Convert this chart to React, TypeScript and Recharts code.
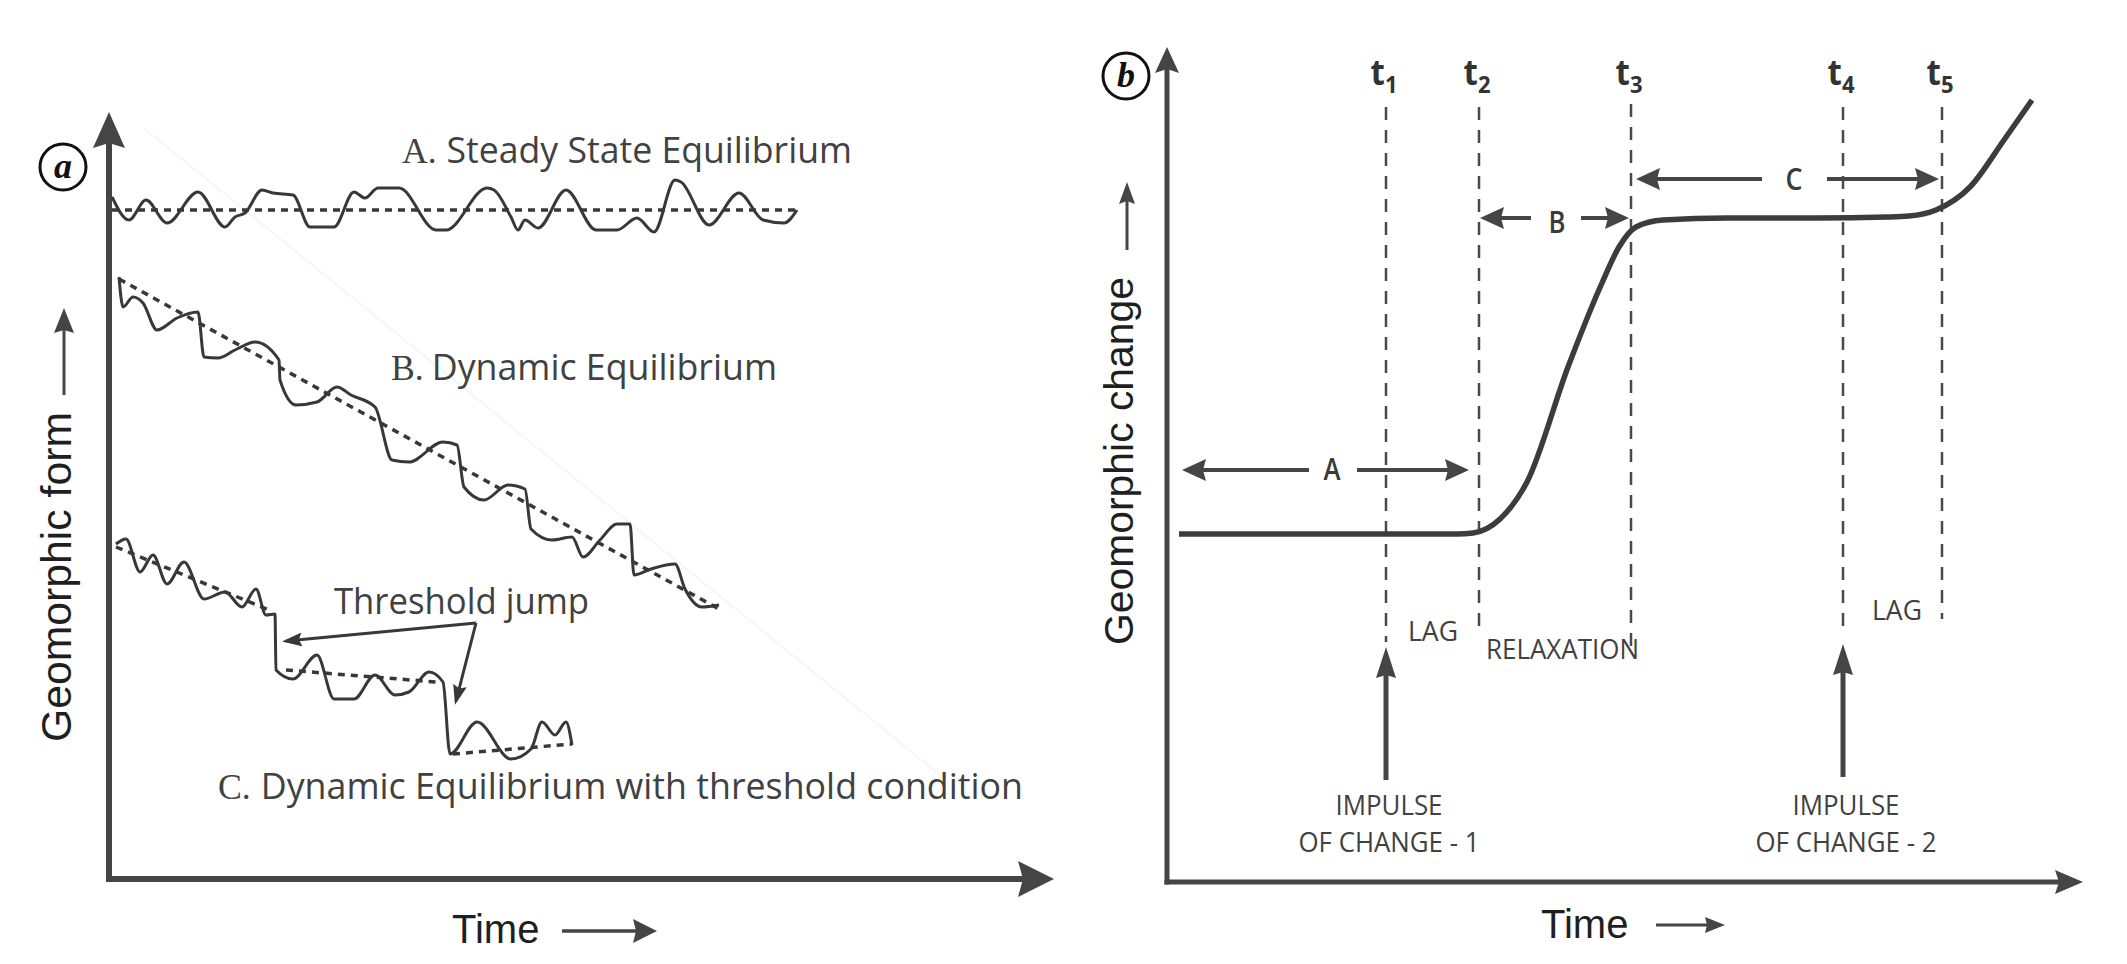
import React from "react";
import { LineChart, Line, XAxis, YAxis, ReferenceLine, ReferenceDot } from "recharts";

type Pt = [number, number];

// (a) geomorphic form through time (arbitrary units)
const steadyState: Pt[] = [
  [3, 682], [20, 659], [37, 679], [58, 656], [89, 687], [116, 652], [126, 662], [136, 666],
  [153, 689], [164, 686], [184, 684], [201, 652], [225, 652], [245, 687], [256, 681], [269, 691],
  [290, 691], [327, 649], [337, 649], [378, 691], [385, 689], [402, 662], [409, 649], [416, 659],
  [429, 651], [457, 689], [487, 649], [508, 649], [528, 661], [545, 647], [566, 699], [572, 697],
  [600, 654], [630, 686], [654, 659], [675, 656], [688, 669],
];
const steadyTrend: Pt[] = [[3, 669], [688, 669]];

const dynamic: Pt[] = [
  [10, 602], [14, 572], [24, 582], [34, 576], [48, 549], [68, 561], [89, 567], [95, 522],
  [109, 521], [126, 529], [146, 537], [170, 519], [171, 499], [187, 474], [208, 477], [228, 492],
  [242, 484], [266, 472], [283, 419], [300, 417], [334, 437], [348, 434], [355, 392], [375, 379],
  [399, 394], [416, 390], [422, 350], [443, 339], [463, 342], [474, 322], [491, 339], [508, 355],
  [521, 355], [525, 304], [542, 310], [566, 315], [576, 290], [593, 272], [610, 274],
];
const dynamicTrend: Pt[] = [[10, 600], [610, 270]];

const threshold: Pt[] = [
  [7, 335], [17, 340], [31, 307], [44, 324], [58, 295], [75, 317], [95, 280], [116, 287],
  [133, 272], [147, 290], [157, 264], [166, 265], [167, 209], [184, 200], [208, 224], [225, 180],
  [245, 180], [266, 204], [286, 184], [300, 187], [320, 207], [334, 197], [341, 125], [368, 157],
  [402, 120], [422, 130], [433, 157], [446, 144], [457, 157], [463, 134],
];
const thresholdTrends: Pt[][] = [
  [[7, 332], [160, 269]],
  [[177, 209], [327, 197]],
  [[344, 125], [463, 135]],
];
const jumpArrows: Pt[][] = [
  [[367, 256], [177, 238]],
  [[367, 256], [347, 178]],
];

// (b) geomorphic change after impulses
const response: Pt[] = [
  [12, 348], [150, 348], [290, 348], [306, 349], [333, 363], [360, 400], [401, 515], [435, 599],
  [452, 635], [469, 655], [496, 662], [560, 664], [650, 664], [720, 665], [742, 666], [769, 672],
  [803, 695], [837, 742], [865, 782],
];
const timeMarks = [
  { sub: "1", x: 219, top: 775, bottom: 240 },
  { sub: "2", x: 312, top: 775, bottom: 253 },
  { sub: "3", x: 464, top: 778, bottom: 227 },
  { sub: "4", x: 676, top: 775, bottom: 253 },
  { sub: "5", x: 775, top: 775, bottom: 263 },
];
const impulses = [
  { n: "1", x: 219, tip: 235, base: 102 },
  { n: "2", x: 676, tip: 238, base: 105 },
];
const periods = [
  { label: "A", y: 412, left: 15, right: 302, gapL: 142, gapR: 190, mid: 165, drop: 10 },
  { label: "B", y: 664, left: 313, right: 462, gapL: 364, gapR: 414, mid: 390, drop: 15 },
  { label: "C", y: 703, left: 469, right: 772, gapL: 595, gapR: 660, mid: 627, drop: 11 },
];

const INK = "#383838";
const AXIS = "#454545";
const TEXT = "#414141";
const DARK = "#1f1f1f";
const SANS = "'Liberation Sans', Arial, sans-serif";
const HUMANIST = "'Open Sans', 'Noto Sans', sans-serif";
const SERIF = "'Liberation Serif', 'DejaVu Serif', serif";

const toRows = (pts: Pt[]) => pts.map(([x, y]) => ({ x, y }));

type TextOpts = {
  size: number;
  family?: string;
  weight?: number;
  anchor?: "start" | "middle" | "end";
  length?: number;
  rotate?: number;
  fill?: string;
};

const textAt = (content: React.ReactNode, o: TextOpts) => (p: any) => (
  <text
    x={p.cx}
    y={p.cy}
    fontSize={o.size}
    fontFamily={o.family ?? HUMANIST}
    fontWeight={o.weight ?? 400}
    textAnchor={o.anchor ?? "start"}
    fill={o.fill ?? TEXT}
    textLength={o.length}
    lengthAdjust={o.length ? "spacingAndGlyphs" : undefined}
    transform={o.rotate ? `rotate(${o.rotate} ${p.cx} ${p.cy})` : undefined}
  >
    {content}
  </text>
);

type Dir = "up" | "down" | "left" | "right";
const head = (dir: Dir, len: number, half: number, notch = 0) => (p: any) => {
  const rot = { right: 0, down: 90, left: 180, up: -90 }[dir];
  const d = `M0,0 L${-len},${-half} L${-len + notch},0 L${-len},${half} Z`;
  return <path d={d} fill={AXIS} transform={`translate(${p.cx},${p.cy}) rotate(${rot})`} />;
};

const badge = (letter: string) => (p: any) => (
  <g>
    <circle cx={p.cx} cy={p.cy} r={23} fill="#fff" stroke="#111" strokeWidth={3} />
    <text
      x={p.cx}
      y={p.cy + 11}
      textAnchor="middle"
      fontFamily={SERIF}
      fontStyle="italic"
      fontWeight={700}
      fontSize={36}
      fill="#111"
    >
      {letter}
    </text>
  </g>
);

function PanelA() {
  return (
    <LineChart width={1063} height={964} margin={{ top: 125, right: 22, bottom: 85, left: 109 }}>
      <XAxis type="number" dataKey="x" domain={[0, 932]} allowDataOverflow hide />
      <YAxis type="number" domain={[0, 754]} allowDataOverflow hide />
      <ReferenceLine segment={[{ x: 36, y: 750 }, { x: 831, y: 104 }]} stroke="#f6f6f6" strokeWidth={2} ifOverflow="visible" />

      <ReferenceLine segment={[{ x: 0, y: 0 }, { x: 932, y: 0 }]} stroke={AXIS} strokeWidth={6} strokeLinecap="square" ifOverflow="visible" />
      <ReferenceLine segment={[{ x: 0, y: 0 }, { x: 0, y: 754 }]} stroke={AXIS} strokeWidth={6} strokeLinecap="square" ifOverflow="visible" />
      <ReferenceDot x={945} y={0} r={0} ifOverflow="visible" shape={head("right", 36, 18, 5)} />
      <ReferenceDot x={0} y={767} r={0} ifOverflow="visible" shape={head("up", 36, 16, 5)} />

      <Line data={toRows(steadyTrend)} dataKey="y" type="linear" stroke={INK} strokeWidth={3.5} strokeDasharray="7 6" dot={false} isAnimationActive={false} />
      <Line data={toRows(dynamicTrend)} dataKey="y" type="linear" stroke={INK} strokeWidth={3.5} strokeDasharray="7 6" dot={false} isAnimationActive={false} />
      {thresholdTrends.map((seg, i) => (
        <Line key={`tt${i}`} data={toRows(seg)} dataKey="y" type="linear" stroke={INK} strokeWidth={3.5} strokeDasharray="7 6" dot={false} isAnimationActive={false} />
      ))}
      <Line data={toRows(steadyState)} dataKey="y" type="monotone" stroke={INK} strokeWidth={3} dot={false} isAnimationActive={false} />
      <Line data={toRows(dynamic)} dataKey="y" type="monotone" stroke={INK} strokeWidth={3} dot={false} isAnimationActive={false} />
      <Line data={toRows(threshold)} dataKey="y" type="monotone" stroke={INK} strokeWidth={3} dot={false} isAnimationActive={false} />
      {jumpArrows.map((seg, i) => (
        <Line key={`ja${i}`} data={toRows(seg)} dataKey="y" type="linear" stroke={INK} strokeWidth={3} dot={false} markerEnd="url(#jumpHead)" isAnimationActive={false} />
      ))}

      <ReferenceDot x={293} y={716} r={0} ifOverflow="visible"
        shape={textAt(<><tspan fontFamily={SERIF}>A.</tspan><tspan dx={10}>Steady State Equilibrium</tspan></>, { size: 36, length: 450 })} />
      <ReferenceDot x={282} y={499} r={0} ifOverflow="visible"
        shape={textAt(<><tspan fontFamily={SERIF}>B.</tspan><tspan dx={8}>Dynamic Equilibrium</tspan></>, { size: 36, length: 386 })} />
      <ReferenceDot x={109} y={80} r={0} ifOverflow="visible"
        shape={textAt(<><tspan fontFamily={SERIF}>C.</tspan><tspan dx={10}>Dynamic Equilibrium with threshold condition</tspan></>, { size: 36, length: 805 })} />
      <ReferenceDot x={225} y={265} r={0} ifOverflow="visible" shape={textAt("Threshold jump", { size: 37, length: 255 })} />

      <ReferenceDot x={343} y={-64} r={0} ifOverflow="visible" shape={textAt("Time", { size: 40, family: SANS, fill: DARK })} />
      <ReferenceLine segment={[{ x: 453, y: -52 }, { x: 530, y: -52 }]} stroke={AXIS} strokeWidth={3.5} ifOverflow="visible" />
      <ReferenceDot x={548} y={-52} r={0} ifOverflow="visible" shape={head("right", 24, 12, 3)} />

      <ReferenceDot x={-38} y={302} r={0} ifOverflow="visible"
        shape={textAt("Geomorphic form", { size: 42, family: SANS, fill: DARK, anchor: "middle", rotate: -90, length: 330 })} />
      <ReferenceLine segment={[{ x: -45, y: 484 }, { x: -45, y: 555 }]} stroke={AXIS} strokeWidth={3} ifOverflow="visible" />
      <ReferenceDot x={-45} y={571} r={0} ifOverflow="visible" shape={head("up", 25, 10, 3)} />

      <ReferenceDot x={-46} y={712} r={0} ifOverflow="visible" shape={badge("a")} />
    </LineChart>
  );
}

function PanelB() {
  return (
    <LineChart width={1064} height={964} margin={{ top: 58, right: 55, bottom: 82, left: 104 }}>
      <XAxis type="number" dataKey="x" domain={[0, 905]} allowDataOverflow hide />
      <YAxis type="number" domain={[0, 824]} allowDataOverflow hide />

      <ReferenceLine segment={[{ x: 0, y: 0 }, { x: 905, y: 0 }]} stroke={AXIS} strokeWidth={5} strokeLinecap="square" ifOverflow="visible" />
      <ReferenceLine segment={[{ x: 0, y: 0 }, { x: 0, y: 824 }]} stroke={AXIS} strokeWidth={5} strokeLinecap="square" ifOverflow="visible" />
      <ReferenceDot x={916} y={0} r={0} ifOverflow="visible" shape={head("right", 28, 12, 4)} />
      <ReferenceDot x={0} y={835} r={0} ifOverflow="visible" shape={head("up", 26, 12, 4)} />

      {timeMarks.map((m) => (
        <ReferenceLine key={`tm${m.sub}`} segment={[{ x: m.x, y: m.top }, { x: m.x, y: m.bottom }]}
          stroke="#4a4a4a" strokeWidth={2.5} strokeDasharray="13 10" ifOverflow="visible" />
      ))}
      {timeMarks.map((m) => (
        <ReferenceDot key={`tl${m.sub}`} x={m.x - 2} y={797} r={0} ifOverflow="visible"
          shape={textAt(<><tspan>t</tspan><tspan fontSize={24} dy={8}>{m.sub}</tspan></>, { size: 36, weight: 700, anchor: "middle", fill: "#333", length: 27 })} />
      ))}

      <Line data={toRows(response)} dataKey="y" type="monotone" stroke="#3c3c3c" strokeWidth={5.5} dot={false} isAnimationActive={false} />

      {periods.map((p) => (
        <React.Fragment key={`pd${p.label}`}>
          <ReferenceLine segment={[{ x: p.left + 16, y: p.y }, { x: p.gapL, y: p.y }]} stroke={AXIS} strokeWidth={4} ifOverflow="visible" />
          <ReferenceLine segment={[{ x: p.gapR, y: p.y }, { x: p.right - 16, y: p.y }]} stroke={AXIS} strokeWidth={4} ifOverflow="visible" />
          <ReferenceDot x={p.left} y={p.y} r={0} ifOverflow="visible" shape={head("left", 24, 11, 3)} />
          <ReferenceDot x={p.right} y={p.y} r={0} ifOverflow="visible" shape={head("right", 24, 11, 3)} />
          <ReferenceDot x={p.mid} y={p.y - p.drop} r={0} ifOverflow="visible"
            shape={textAt(p.label, { size: 30, weight: 600, anchor: "middle", fill: "#3a3a3a", length: 17 })} />
        </React.Fragment>
      ))}

      {impulses.map((m) => (
        <React.Fragment key={`im${m.n}`}>
          <ReferenceLine segment={[{ x: m.x, y: m.base }, { x: m.x, y: m.tip - 22 }]} stroke={AXIS} strokeWidth={5} ifOverflow="visible" />
          <ReferenceDot x={m.x} y={m.tip} r={0} ifOverflow="visible" shape={head("up", 31, 10, 3)} />
          <ReferenceDot x={m.x + 3} y={67} r={0} ifOverflow="visible" shape={textAt("IMPULSE", { size: 27, anchor: "middle", length: 107 })} />
          <ReferenceDot x={m.x + 3} y={30} r={0} ifOverflow="visible" shape={textAt(`OF CHANGE - ${m.n}`, { size: 27, anchor: "middle", length: 181 })} />
        </React.Fragment>
      ))}

      <ReferenceDot x={266} y={241} r={0} ifOverflow="visible" shape={textAt("LAG", { size: 27, anchor: "middle", length: 50 })} />
      <ReferenceDot x={319} y={223} r={0} ifOverflow="visible" shape={textAt("RELAXATION", { size: 27, length: 153 })} />
      <ReferenceDot x={730} y={262} r={0} ifOverflow="visible" shape={textAt("LAG", { size: 27, anchor: "middle", length: 50 })} />

      <ReferenceDot x={-34} y={421} r={0} ifOverflow="visible"
        shape={textAt("Geomorphic change", { size: 41, family: SANS, fill: DARK, anchor: "middle", rotate: -90, length: 368 })} />
      <ReferenceLine segment={[{ x: -40, y: 632 }, { x: -40, y: 685 }]} stroke={AXIS} strokeWidth={3} ifOverflow="visible" />
      <ReferenceDot x={-40} y={700} r={0} ifOverflow="visible" shape={head("up", 22, 8, 3)} />

      <ReferenceDot x={374} y={-56} r={0} ifOverflow="visible" shape={textAt("Time", { size: 40, family: SANS, fill: DARK })} />
      <ReferenceLine segment={[{ x: 489, y: -43 }, { x: 542, y: -43 }]} stroke={AXIS} strokeWidth={3} ifOverflow="visible" />
      <ReferenceDot x={558} y={-43} r={0} ifOverflow="visible" shape={head("right", 20, 8, 2)} />

      <ReferenceDot x={-41} y={806} r={0} ifOverflow="visible" shape={badge("b")} />
    </LineChart>
  );
}

export default function App() {
  return (
    <div style={{ position: "absolute", left: 0, top: 0, width: 2127, height: 964, background: "#fff", overflow: "hidden" }}>
      <svg width={0} height={0} style={{ position: "absolute" }}>
        <defs>
          <marker id="jumpHead" viewBox="0 0 20 14" refX={16} refY={7} markerWidth={20} markerHeight={14} markerUnits="userSpaceOnUse" orient="auto">
            <path d="M0,0 L20,7 L0,14 L3,7 Z" fill={INK} />
          </marker>
        </defs>
      </svg>
      <div style={{ position: "absolute", left: 0, top: 0 }}>
        <PanelA />
      </div>
      <div style={{ position: "absolute", left: 1063, top: 0 }}>
        <PanelB />
      </div>
    </div>
  );
}
